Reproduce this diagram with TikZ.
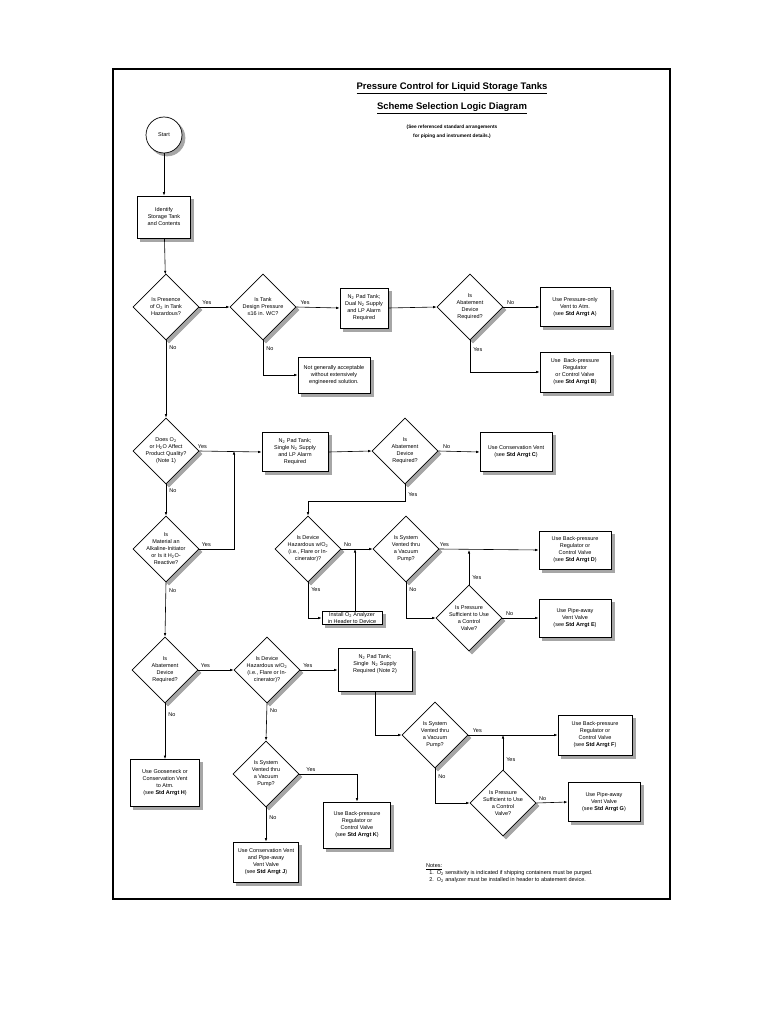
\documentclass[tikz,border=0pt]{standalone}
\usepackage{fontspec}
\setmainfont{Liberation Sans}
\usetikzlibrary{shapes.geometric,arrows.meta}
\begin{document}
\begin{tikzpicture}[x=1pt,y=-1pt,
 base/.style={font=\fontsize{5.5}{7}\selectfont, align=center, fill=white, draw=black, line width=0.7pt, inner sep=1pt,
   preaction={draw=gray!70, fill=gray!70, line width=0.7pt, transform canvas={xshift=3pt,yshift=-3pt}}},
 box/.style={base, rectangle},
 dia/.style={base, diamond, minimum width=66pt, minimum height=66pt, inner sep=-8pt},
 lbl/.style={font=\fontsize{5.5}{7}\selectfont, inner sep=0pt},
 arr/.style={line width=0.6pt, -{Latex[length=3.5pt,width=2.5pt]}},
 ln/.style={line width=0.6pt}]
\useasboundingbox (0,0) rectangle (768,1024);
\draw[line width=1.1pt] (113,69) rectangle (670,899);
\node[font=\bfseries\fontsize{9.5}{11}\selectfont] (t1) at (452,88) {\underline{Pressure Control for Liquid Storage Tanks}};
\node[font=\bfseries\fontsize{9.5}{11}\selectfont] (t2) at (452,108) {\underline{Scheme Selection Logic Diagram}};
\node[font=\bfseries\fontsize{4.8}{9}\selectfont, align=center] (t3) at (452,132) {(See referenced standard arrangements\\for piping and instrument details.)};

\node[base, circle, minimum size=36pt] (start) at (164,135) {Start};
\node[box, minimum width=53pt, minimum height=42pt] (ident) at (164,217) {Identify\\Storage Tank\\and Contents};
\node[dia] (d1) at (166,307) {Is Presence\\of O\textsubscript{2} in Tank\\Hazardous?};
\node[dia] (d2) at (263,307) {Is Tank\\Design Pressure\\≤16 in. WC?};
\node[box, minimum width=48pt, minimum height=40pt] (n2a) at (364,308) {N\textsubscript{2} Pad Tank;\\Dual N\textsubscript{2} Supply\\and LP Alarm\\Required};
\node[dia] (d3) at (470,307) {Is\\Abatement\\Device\\Required?};
\node[box, minimum width=70pt, minimum height=39pt] (bA) at (575,307) {Use Pressure-only\\Vent to Atm.\\(see \textbf{Std Arrgt A})};
\node[box, minimum width=70pt, minimum height=40pt] (bB) at (575,372) {Use\ \ Back-pressure\\Regulator\\or Control Valve\\(see \textbf{Std Arrgt B})};
\node[box, minimum width=72pt, minimum height=36pt] (ng) at (334,375) {Not generally acceptable\\without extensively\\engineered solution.};

\node[dia] (d4) at (166,451) {Does O\textsubscript{2}\\or H\textsubscript{2}O Affect\\Product Quality?\\(Note 1)};
\node[box, minimum width=66pt, minimum height=39pt] (n2b) at (295,452) {N\textsubscript{2} Pad Tank;\\Single N\textsubscript{2} Supply\\and LP Alarm\\Required};
\node[dia] (d5) at (405,451) {Is\\Abatement\\Device\\Required?};
\node[box, minimum width=72pt, minimum height=39pt] (bC) at (516,452) {Use Conservation Vent\\(see \textbf{Std Arrgt C})};

\node[dia] (d6) at (166,549) {Is\\Material an\\Alkaline-Initiator\\or Is it H\textsubscript{2}O-\\Reactive?};
\node[dia] (d7) at (308,549) {Is Device\\Hazardous w/O\textsubscript{2}\\(i.e., Flare or In-\\cinerator)?};
\node[box, minimum width=60pt, minimum height=13pt] (o2) at (352,618) {Install O\textsubscript{2} Analyzer\\in Header to Device};
\node[dia] (d8) at (406,549) {Is System\\Vented thru\\a Vacuum\\Pump?};
\node[box, minimum width=72pt, minimum height=38pt] (bD) at (575,550) {Use Back-pressure\\Regulator or\\Control Valve\\(see \textbf{Std Arrgt D})};
\node[dia] (d9) at (469,618) {Is Pressure\\Sufficient to Use\\a Control\\Valve?};
\node[box, minimum width=72pt, minimum height=38pt] (bE) at (575,618) {Use Pipe-away\\Vent Valve\\(see \textbf{Std Arrgt E})};

\node[dia] (d10) at (165,670) {Is\\Abatement\\Device\\Required?};
\node[dia] (d11) at (267,670) {Is Device\\Hazardous w/O\textsubscript{2}\\(i.e., Flare or In-\\cinerator)?};
\node[box, minimum width=74pt, minimum height=43pt] (n2c) at (375,670) {N\textsubscript{2} Pad Tank;\\Single\ \ N\textsubscript{2} Supply\\Required (Note 2)\\[6pt]};
\node[box, minimum width=69pt, minimum height=47pt] (bH) at (165,783) {Use Gooseneck or\\Conservation Vent\\to Atm.\\(see \textbf{Std Arrgt H})};
\node[dia] (d12) at (266,774) {Is System\\Vented thru\\a Vacuum\\Pump?};
\node[box, minimum width=67pt, minimum height=46pt] (bK) at (357,825) {Use Back-pressure\\Regulator or\\Control Valve\\(see \textbf{Std Arrgt K})};
\node[box, minimum width=65pt, minimum height=40pt] (bJ) at (266,862) {Use Conservation Vent\\and Pipe-away\\Vent Valve\\(see \textbf{Std Arrgt J})};

\node[dia] (d13) at (435,735) {Is System\\Vented thru\\a Vacuum\\Pump?};
\node[box, minimum width=74pt, minimum height=40pt] (bF) at (595,735) {Use Back-pressure\\Regulator or\\Control Valve\\(see \textbf{Std Arrgt F})};
\node[dia] (d14) at (503,803) {Is Pressure\\Sufficient to Use\\a Control\\Valve?};
\node[box, minimum width=72pt, minimum height=39pt] (bG) at (604,802) {Use Pipe-away\\Vent Valve\\(see \textbf{Std Arrgt G})};

\node[lbl, anchor=west, align=left] (notes) at (426,873) {\underline{Notes:}\\\ \ 1.\ \ O\textsubscript{2} sensitivity is indicated if shipping containers must be purged.\\\ \ 2.\ \ O\textsubscript{2} analyzer must be installed in header to abatement device.};

% connectors
\draw[arr] (start) -- (ident);
\draw[arr] (ident) -- (d1);
\draw[arr] (d1.east) -- node[lbl,above=2pt,pos=0.25]{Yes} (d2.west);
\draw[arr] (d2.east) -- node[lbl,above=2pt,pos=0.2]{Yes} (n2a.west);
\draw[arr] (n2a.east) -- (d3.west);
\draw[arr] (d3.east) -- node[lbl,above=2pt,pos=0.2]{No} (bA.west);
\draw[arr] (d3.south) -- node[lbl,right=3pt,pos=0.3]{Yes} (d3.south |- bB.west) -- (bB.west);
\draw[arr] (d2.south) -- node[lbl,right=3pt,pos=0.25]{No} (d2.south |- ng.west) -- (ng.west);
\draw[arr] (d1.south) -- node[lbl,right=3pt,pos=0.1]{No} (d4.north);
\draw[arr] (d4.east) -- node[lbl,above=2pt,pos=0.05]{Yes} (n2b.west);
\coordinate (j1) at (234,451);
\draw[arr] (d6.east) -- node[lbl,above=2pt,pos=0.2]{Yes} (d6.east -| j1) -- (j1);
\draw[arr] (n2b.east) -- (d5.west);
\draw[arr] (d5.east) -- node[lbl,above=2pt,pos=0.2]{No} (bC.west);
\coordinate (j2) at (405,501);
\draw[arr] (d5.south) -- node[lbl,right=3pt,pos=0.6]{Yes} (j2) -- (j2 -| d7.north) -- (d7.north);
\draw[arr] (d4.south) -- node[lbl,right=3pt,pos=0.2]{No} (d6.north);
\draw[arr] (d7.east) -- node[lbl,above=2pt,pos=0.2]{No} (d8.west);
\draw[arr] (d7.south) -- node[lbl,right=3pt,pos=0.2]{Yes} (d7.south |- o2.west) -- (o2.west);
\coordinate (o2t) at ([xshift=3pt]o2.north);
\draw[arr] (o2t) -- (o2t |- d8.west);
\draw[arr] (d8.east) -- node[lbl,above=2pt,pos=0.05]{Yes} (bD.west);
\draw[arr] (d8.south) -- node[lbl,right=3pt,pos=0.2]{No} (d8.south |- d9.west) -- (d9.west);
\draw[arr] (d9.north) -- node[lbl,right=3pt,pos=0.2]{Yes} (d9.north |- bD.west);
\draw[arr] (d9.east) -- node[lbl,above=2pt,pos=0.2]{No} (bE.west);
\draw[arr] (d6.south) -- node[lbl,right=3pt,pos=0.15]{No} (d10.north);
\draw[arr] (d10.east) -- node[lbl,above=2pt,pos=0.2]{Yes} (d11.west);
\draw[arr] (d11.east) -- node[lbl,above=2pt,pos=0.2]{Yes} (n2c.west);
\draw[arr] (d10.south) -- node[lbl,right=3pt,pos=0.2]{No} (bH.north);
\draw[arr] (d11.south) -- node[lbl,right=3pt,pos=0.2]{No} (d12.north);
\draw[arr] (d12.east) -- node[lbl,above=2pt,pos=0.2]{Yes} (d12.east -| bK.north) -- (bK.north);
\draw[arr] (d12.south) -- node[lbl,right=3pt,pos=0.3]{No} (bJ.north);
\draw[arr] (n2c.south) -- (n2c.south |- d13.west) -- (d13.west);
\draw[arr] (d13.east) -- node[lbl,above=2pt,pos=0.1]{Yes} (bF.west);
\draw[arr] (d13.south) -- node[lbl,right=3pt,pos=0.25]{No} (d13.south |- d14.west) -- (d14.west);
\draw[arr] (d14.north) -- node[lbl,right=3pt,pos=0.3]{Yes} (d14.north |- bF.west);
\draw[arr] (d14.east) -- node[lbl,above=2pt,pos=0.2]{No} (bG.west);
\end{tikzpicture}
\end{document}
